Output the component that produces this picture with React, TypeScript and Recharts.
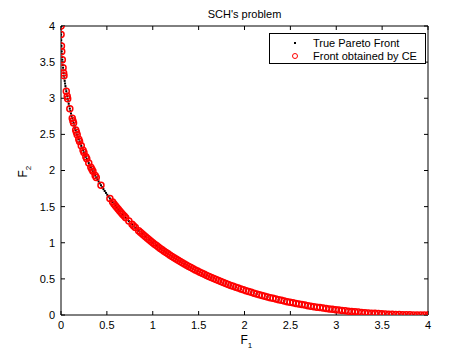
import React from "react";
import {
  ScatterChart,
  Scatter,
  XAxis,
  YAxis,
  Label,
} from "recharts";

/* ---------- data ---------- */

const axisTicks = [0, 0.5, 1, 1.5, 2, 2.5, 3, 3.5, 4];

const trueF1 = [
  0, 0.0001, 0.0004, 0.0009, 0.0016, 0.0025, 0.0036, 0.0049, 0.0064, 0.0081,
  0.01, 0.0121, 0.0144, 0.0169, 0.0196, 0.0225, 0.0256, 0.0289, 0.0324, 0.0361,
  0.04, 0.0441, 0.0484, 0.0529, 0.0576, 0.0625, 0.0676, 0.0729, 0.0784, 0.0841,
  0.09, 0.0961, 0.1024, 0.1089, 0.1156, 0.1225, 0.1296, 0.1369, 0.1444, 0.1521,
  0.16, 0.1681, 0.1764, 0.1849, 0.1936, 0.2025, 0.2116, 0.2209, 0.2304, 0.2401,
  0.25, 0.2601, 0.2704, 0.2809, 0.2916, 0.3025, 0.3136, 0.3249, 0.3364, 0.3481,
  0.36, 0.3721, 0.3844, 0.3969, 0.4096, 0.4225, 0.4356, 0.4489, 0.4624, 0.4761,
  0.49, 0.5041, 0.5184, 0.5329, 0.5476, 0.5625, 0.5776, 0.5929, 0.6084, 0.6241,
  0.64, 0.6724, 0.7056, 0.7396, 0.7744, 0.81, 0.8464, 0.8836, 0.9216, 0.9604,
  1, 1.0404, 1.0816, 1.1236, 1.1664, 1.21, 1.2544, 1.2996, 1.3456, 1.3924,
  1.44, 1.4884, 1.5376, 1.5876, 1.6384, 1.69, 1.7424, 1.7956, 1.8496, 1.9044,
  1.96, 2.0164, 2.0736, 2.1316, 2.1904, 2.25, 2.3104, 2.3716, 2.4336, 2.4964,
  2.56, 2.6244, 2.6896, 2.7556, 2.8224, 2.89, 2.9584, 3.0276, 3.0976, 3.1684,
  3.24, 3.3124, 3.3856, 3.4596, 3.5344, 3.61, 3.6864, 3.7636, 3.8416, 3.9204,
  4,
];

const trueF2 = [
  4, 3.9601, 3.9204, 3.8809, 3.8416, 3.8025, 3.7636, 3.7249, 3.6864, 3.6481,
  3.61, 3.5721, 3.5344, 3.4969, 3.4596, 3.4225, 3.3856, 3.3489, 3.3124, 3.2761,
  3.24, 3.2041, 3.1684, 3.1329, 3.0976, 3.0625, 3.0276, 2.9929, 2.9584, 2.9241,
  2.89, 2.8561, 2.8224, 2.7889, 2.7556, 2.7225, 2.6896, 2.6569, 2.6244, 2.5921,
  2.56, 2.5281, 2.4964, 2.4649, 2.4336, 2.4025, 2.3716, 2.3409, 2.3104, 2.2801,
  2.25, 2.2201, 2.1904, 2.1609, 2.1316, 2.1025, 2.0736, 2.0449, 2.0164, 1.9881,
  1.96, 1.9321, 1.9044, 1.8769, 1.8496, 1.8225, 1.7956, 1.7689, 1.7424, 1.7161,
  1.69, 1.6641, 1.6384, 1.6129, 1.5876, 1.5625, 1.5376, 1.5129, 1.4884, 1.4641,
  1.44, 1.3924, 1.3456, 1.2996, 1.2544, 1.21, 1.1664, 1.1236, 1.0816, 1.0404,
  1, 0.9604, 0.9216, 0.8836, 0.8464, 0.81, 0.7744, 0.7396, 0.7056, 0.6724,
  0.64, 0.6084, 0.5776, 0.5476, 0.5184, 0.49, 0.4624, 0.4356, 0.4096, 0.3844,
  0.36, 0.3364, 0.3136, 0.2916, 0.2704, 0.25, 0.2304, 0.2116, 0.1936, 0.1764,
  0.16, 0.1444, 0.1296, 0.1156, 0.1024, 0.09, 0.0784, 0.0676, 0.0576, 0.0484,
  0.04, 0.0324, 0.0256, 0.0196, 0.0144, 0.01, 0.0064, 0.0036, 0.0016, 0.0004,
  0,
];

const ceF1 = [
  0, 0.0009, 0.0049, 0.0081, 0.0144, 0.0225, 0.0289, 0.0324, 0.0576, 0.0676,
  0.0729, 0.0961, 0.1225, 0.1296, 0.1369, 0.16, 0.1681, 0.1764, 0.1936, 0.2025,
  0.2209, 0.2401, 0.25, 0.2704, 0.2809, 0.3025, 0.3249, 0.3364, 0.3481, 0.3721,
  0.3844, 0.4356, 0.5329, 0.5625, 0.5776, 0.5929, 0.6084, 0.6241, 0.64, 0.6561,
  0.6724, 0.6889, 0.7056, 0.7396, 0.7744, 0.7921, 0.81, 0.8464, 0.8649, 0.8836,
  0.9025, 0.9216, 0.9409, 0.9604, 0.9801, 1,
  1.0201, 1.0404, 1.0609, 1.0816, 1.1025, 1.1236, 1.1449, 1.1664, 1.1881, 1.21,
  1.2321, 1.2544, 1.2769, 1.2996, 1.3225, 1.3456, 1.3689, 1.3924, 1.4161, 1.44,
  1.4641, 1.4884, 1.5129, 1.5376, 1.5625, 1.5876, 1.6129, 1.6384, 1.6641, 1.69,
  1.7161, 1.7424, 1.7689, 1.7956, 1.8225, 1.8496, 1.8769, 1.9044, 1.9321, 1.96,
  1.9881, 2.0164, 2.0449, 2.0736, 2.1025, 2.1316, 2.1609, 2.1904, 2.2201, 2.25,
  2.2801, 2.3104, 2.3409, 2.3716, 2.4025, 2.4336, 2.4649, 2.4964, 2.5281, 2.56,
  2.5921, 2.6244, 2.6569, 2.6896, 2.7225, 2.7556, 2.7889, 2.8224, 2.8561, 2.89,
  2.9241, 2.9584, 2.9929, 3.0276, 3.0625, 3.0976, 3.1329, 3.1684, 3.2041, 3.24,
  3.2761, 3.3124, 3.3489, 3.3856, 3.4225, 3.4596, 3.4969, 3.5344, 3.5721, 3.61,
  3.6481, 3.6864, 3.7249, 3.7636, 3.8025, 3.8416, 3.8809, 3.9204, 3.9601, 4,
];

const ceF2 = [
  4, 3.8809, 3.7249, 3.6481, 3.5344, 3.4225, 3.3489, 3.3124, 3.0976, 3.0276,
  2.9929, 2.8561, 2.7225, 2.6896, 2.6569, 2.56, 2.5281, 2.4964, 2.4336, 2.4025,
  2.3409, 2.2801, 2.25, 2.1904, 2.1609, 2.1025, 2.0449, 2.0164, 1.9881, 1.9321,
  1.9044, 1.7956, 1.6129, 1.5625, 1.5376, 1.5129, 1.4884, 1.4641, 1.44, 1.4161,
  1.3924, 1.3689, 1.3456, 1.2996, 1.2544, 1.2321, 1.21, 1.1664, 1.1449, 1.1236,
  1.1025, 1.0816, 1.0609, 1.0404, 1.0201, 1,
  0.9801, 0.9604, 0.9409, 0.9216, 0.9025, 0.8836, 0.8649, 0.8464, 0.8281, 0.81,
  0.7921, 0.7744, 0.7569, 0.7396, 0.7225, 0.7056, 0.6889, 0.6724, 0.6561, 0.64,
  0.6241, 0.6084, 0.5929, 0.5776, 0.5625, 0.5476, 0.5329, 0.5184, 0.5041, 0.49,
  0.4761, 0.4624, 0.4489, 0.4356, 0.4225, 0.4096, 0.3969, 0.3844, 0.3721, 0.36,
  0.3481, 0.3364, 0.3249, 0.3136, 0.3025, 0.2916, 0.2809, 0.2704, 0.2601, 0.25,
  0.2401, 0.2304, 0.2209, 0.2116, 0.2025, 0.1936, 0.1849, 0.1764, 0.1681, 0.16,
  0.1521, 0.1444, 0.1369, 0.1296, 0.1225, 0.1156, 0.1089, 0.1024, 0.0961, 0.09,
  0.0841, 0.0784, 0.0729, 0.0676, 0.0625, 0.0576, 0.0529, 0.0484, 0.0441, 0.04,
  0.0361, 0.0324, 0.0289, 0.0256, 0.0225, 0.0196, 0.0169, 0.0144, 0.0121, 0.01,
  0.0081, 0.0064, 0.0049, 0.0036, 0.0025, 0.0016, 0.0009, 0.0004, 0.0001, 0,
];

const trueFront = trueF1.map((f1, i) => ({ f1, f2: trueF2[i] }));
const ceFront = ceF1.map((f1, i) => ({ f1, f2: ceF2[i] }));

const FONT = '"Liberation Sans", Arial, sans-serif';
const tickStyle = { fontSize: 11, fill: "#000", fontFamily: FONT };

/* ---------- marker shapes ---------- */

function Dot(props: any) {
  return <rect x={props.cx - 1} y={props.cy - 1} width={2} height={2} fill="#000" />;
}

function Ring(props: any) {
  return (
    <circle cx={props.cx} cy={props.cy} r={3} fill="none" stroke="#ff0000" strokeWidth={1.5} />
  );
}

function Nothing() {
  return <g />;
}

// box axes: keep the tick marks, drop the text
const noText = () => <g />;

/* ---------- axis labels with subscripts ---------- */

const xLabel = ({ viewBox }: any) => {
  const cx = viewBox.x + viewBox.width / 2;
  const y = viewBox.y + 28;
  return (
    <text x={cx - 4} y={y} fontSize={12} fontFamily={FONT} fill="#000" stroke="none">
      F
      <tspan fontSize={8} dy={4}>1</tspan>
    </text>
  );
};

const yLabel = ({ viewBox }: any) => {
  const y = viewBox.y + viewBox.height / 2 + 7;
  const x = 27;
  return (
    <text
      x={x}
      y={y}
      fontSize={12}
      fontFamily={FONT}
      fill="#000"
      stroke="none"
      style={{ fill: "#000" }}
      textAnchor="start"
      transform={`rotate(-90 ${x} ${y})`}
    >
      F
      <tspan fontSize={8} dy={4}>2</tspan>
    </text>
  );
};

/* ---------- legend ---------- */

function LegendBox() {
  return (
    <div
      style={{
        position: "absolute",
        left: 269,
        top: 33,
        width: 155,
        height: 29,
        border: "1px solid #000",
        background: "#fff",
        fontFamily: FONT,
        fontSize: 11,
        color: "#000",
        lineHeight: "12px",
      }}
    >
      <div style={{ position: "relative", height: 13, marginTop: 3 }}>
        <span
          style={{
            position: "absolute",
            left: 24,
            top: 5,
            width: 2,
            height: 2,
            background: "#000",
          }}
        />
        <span style={{ position: "absolute", left: 43, top: 0 }}>True Pareto Front</span>
      </div>
      <div style={{ position: "relative", height: 13 }}>
        <span
          style={{
            position: "absolute",
            left: 22,
            top: 3,
            width: 4,
            height: 4,
            borderRadius: "50%",
            border: "1px solid #ff0000",
          }}
        />
        <span style={{ position: "absolute", left: 43, top: 0 }}>Front obtained by CE</span>
      </div>
    </div>
  );
}

export default function App() {
  return (
    <div style={{ position: "absolute", left: 0, top: 0, width: 474, height: 355, background: "#fff" }}>
      <ScatterChart width={474} height={355} margin={{ top: 25, right: 45, left: 0, bottom: 0 }}>
        <XAxis
          xAxisId="zlabels"
          type="number"
          dataKey="f1"
          domain={[0, 4]}
          ticks={axisTicks}
          orientation="bottom"
          height={39}
          tickLine={false}
          tickSize={0}
          tickMargin={5}
          tick={tickStyle}
          axisLine={false}
          allowDataOverflow
        >
          <Label content={xLabel} />
        </XAxis>
        {/* box axes with inward ticks */}
        <XAxis
          xAxisId="abox"
          type="number"
          dataKey="f1"
          domain={[0, 4]}
          ticks={axisTicks}
          orientation="bottom"
          height={1}
          tickSize={-4}
          tick={noText}
          stroke="#000"
          allowDataOverflow
        />
        <XAxis
          xAxisId="top"
          type="number"
          dataKey="f1"
          domain={[0, 4]}
          ticks={axisTicks}
          orientation="top"
          height={1}
          tickSize={-4}
          tick={noText}
          stroke="#000"
          allowDataOverflow
        >
          <Label
            value="SCH's problem"
            position="top"
            offset={7}
            style={{ fontSize: 11, fontFamily: FONT, fill: "#000" }}
          />
        </XAxis>
        <YAxis
          yAxisId="zlabels"
          type="number"
          dataKey="f2"
          domain={[0, 4]}
          ticks={axisTicks}
          orientation="left"
          width={60}
          tickLine={false}
          tickSize={0}
          tickMargin={5}
          tick={tickStyle}
          axisLine={false}
          allowDataOverflow
        >
          <Label content={yLabel} />
        </YAxis>
        <YAxis
          yAxisId="abox"
          type="number"
          dataKey="f2"
          domain={[0, 4]}
          ticks={axisTicks}
          orientation="left"
          width={1}
          tickSize={-4}
          tick={noText}
          stroke="#000"
          allowDataOverflow
        />
        <YAxis
          yAxisId="right"
          type="number"
          dataKey="f2"
          domain={[0, 4]}
          ticks={axisTicks}
          orientation="right"
          width={1}
          tickSize={-4}
          tick={noText}
          stroke="#000"
          allowDataOverflow
        />
        {/* hidden series so the box axes get drawn */}
        <Scatter data={trueFront} xAxisId="abox" yAxisId="abox" shape={<Nothing />} isAnimationActive={false} legendType="none" />
        <Scatter data={trueFront} xAxisId="top" yAxisId="right" shape={<Nothing />} isAnimationActive={false} legendType="none" />
        <Scatter
          name="True Pareto Front"
          data={trueFront}
          xAxisId="zlabels"
          yAxisId="zlabels"
          shape={<Dot />}
          isAnimationActive={false}
        />
        <Scatter
          name="Front obtained by CE"
          data={ceFront}
          xAxisId="zlabels"
          yAxisId="zlabels"
          shape={<Ring />}
          isAnimationActive={false}
        />
      </ScatterChart>
      <LegendBox />
    </div>
  );
}
